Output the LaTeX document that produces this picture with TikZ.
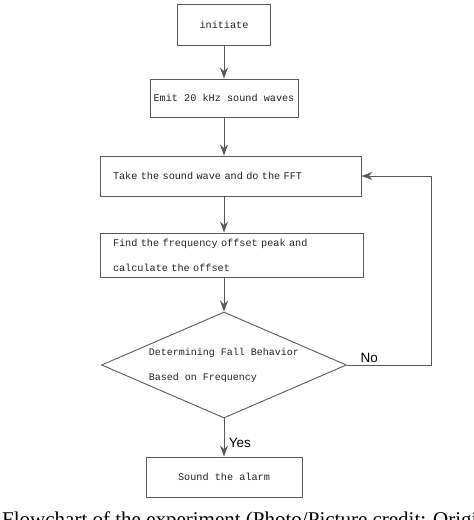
\documentclass[tikz,border=0pt]{standalone}
\usepackage{fontspec}
\setmainfont{Liberation Serif}
\newfontfamily\boxfont{Liberation Mono}
\newfontfamily\labelfont{Liberation Sans}
\usetikzlibrary{shapes.geometric}
\usetikzlibrary{arrows.meta}
\usetikzlibrary{positioning}

\definecolor{linegray}{HTML}{5A5A5A}
\definecolor{textgray}{HTML}{222222}

\tikzset{
    stepbox/.style={draw=linegray, line width=0.9pt, rectangle, inner sep=0pt,
        text=textgray, font=\boxfont\fontsize{10.2}{25}\selectfont},
    decide/.style={draw=linegray, line width=0.9pt, diamond, aspect=2.3, inner sep=0pt,
        minimum width=245pt, minimum height=106pt, align=left,
        text=textgray, font=\boxfont\fontsize{10}{25}\selectfont},
    flow/.style={draw=linegray, line width=0.9pt, -{Stealth[length=11pt,width=8pt]}},
    tag/.style={font=\labelfont\fontsize{13.5}{16}\selectfont, text=black}
}

\begin{document}
\begin{tikzpicture}[x=1pt, y=-1pt]
    \useasboundingbox (0, 0) rectangle (474, 520);

    % Start
    \node[stepbox, minimum width=93pt, minimum height=41pt] (init) at (224, 25) {initiate};

    % Emit
    \node[stepbox, minimum width=148pt, minimum height=38pt] (emit) at (224, 98) {Emit 20 kHz sound waves};

    % FFT
    \node[stepbox, minimum width=261pt, minimum height=40pt, text width=235pt, align=left] (fft) at (230.5, 176) {Take the sound wave and do the FFT};

    % Peak and offset
    \node[stepbox, minimum width=263pt, minimum height=44pt, text width=237pt, align=left] (peak) at (231.5, 255) {Find the frequency offset peak and\\calculate the offset};

    % Decision
    \node[decide] (fall) at (224, 365) {Determining Fall Behavior\\Based on Frequency};

    % Alarm
    \node[stepbox, minimum width=156pt, minimum height=40pt] (alarm) at (224, 477) {Sound the alarm};

    % Main flow (all arrows on one vertical line)
    \draw[flow] (init) -- (emit);
    \draw[flow] (emit.south) -- (emit.south |- fft.north);
    \draw[flow] (fft.south -| emit.south) -- (peak.north -| emit.south);
    \draw[flow] (peak.south -| fall.north) -- (fall.north);
    \draw[flow] (fall) -- (alarm) node[tag, midway, right, xshift=1pt, yshift=-5pt] {Yes};

    % Loop back when no fall
    \coordinate (turn) at (431, 365);
    \draw[flow] (fall.east) -- (turn) |- (fft.east);
    \node[tag, above right] at (357, 366) {No};

    % Caption (cut off at the lower edge)
    \begin{scope}
        \clip (0, 0) rectangle (474, 520);
        \node[anchor=base west, inner sep=0pt, font=\fontsize{21}{24}\selectfont] (caption) at (2, 526) {Flowchart of the experiment (Photo/Picture credit: Original)};
    \end{scope}
\end{tikzpicture}
\end{document}
